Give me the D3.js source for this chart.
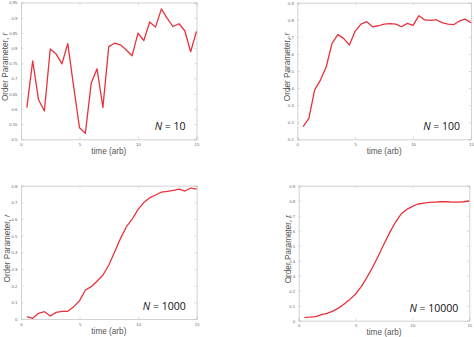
<!DOCTYPE html>
<html>
<head>
<meta charset="utf-8">
<script src="https://cdn.jsdelivr.net/npm/d3@7"></script>
<style>
  html, body { margin: 0; padding: 0; background: #fff; }
  svg { display: block; }
</style>
</head>
<body>
<svg id="chart" width="474" height="337"></svg>
<script>
// Sample times (arb units)
const time = [0.5,1,1.5,2,2.5,3,3.5,4,4.5,5,5.5,6,6.5,7,7.5,8,8.5,9,9.5,10,10.5,11,11.5,12,12.5,13,13.5,14,14.5,15];

// Order parameter r for each population size N
const orderN10 = [0.604,0.758,0.630,0.593,0.797,0.781,0.748,0.815,0.673,0.538,0.520,0.684,0.732,0.605,0.805,0.816,0.811,0.794,0.775,0.849,0.825,0.886,0.869,0.929,0.898,0.871,0.880,0.857,0.788,0.855];
const orderN100 = [0.174,0.223,0.389,0.447,0.525,0.662,0.713,0.691,0.652,0.734,0.775,0.789,0.759,0.765,0.775,0.777,0.775,0.759,0.779,0.767,0.824,0.799,0.797,0.800,0.783,0.775,0.771,0.793,0.804,0.783];
const orderN1000 = [0.014,0.004,0.034,0.044,0.018,0.040,0.046,0.046,0.074,0.110,0.174,0.194,0.228,0.264,0.324,0.404,0.484,0.554,0.600,0.658,0.700,0.728,0.744,0.762,0.766,0.772,0.780,0.768,0.786,0.780];
const orderN10000 = [0.022,0.024,0.027,0.040,0.049,0.064,0.084,0.111,0.142,0.178,0.227,0.289,0.356,0.431,0.511,0.587,0.656,0.711,0.742,0.762,0.778,0.784,0.789,0.791,0.793,0.793,0.791,0.791,0.793,0.798];

// Axis ticks
const xTicks = [0, 5, 10, 15];
const yTicksN10 = [0.5,0.55,0.6,0.65,0.7,0.75,0.8,0.85,0.9,0.95];
const yTicksN100 = [0.1,0.2,0.3,0.4,0.5,0.6,0.7,0.8,0.9];
const yTicksN1000 = [0,0.1,0.2,0.3,0.4,0.5,0.6,0.7,0.8];
const yTicksN10000 = [0,0.1,0.2,0.3,0.4,0.5,0.6,0.7,0.8,0.9];

// Panel sizes
const sizeLabels = ["10", "100", "1000", "10000"];

const panels = [
  { n: sizeLabels[0], values: orderN10,    yTicks: yTicksN10,    box: {x0: 21,  x1: 196.5, y0: 2.5,   y1: 139.3}, ylabX: 5 },
  { n: sizeLabels[1], values: orderN100,   yTicks: yTicksN100,   box: {x0: 297.3, x1: 471, y0: 2.7,   y1: 139.3}, ylabX: 287 },
  { n: sizeLabels[2], values: orderN1000,  yTicks: yTicksN1000,  box: {x0: 21,  x1: 196.7, y0: 185.7, y1: 319},   ylabX: 7 },
  { n: sizeLabels[3], values: orderN10000, yTicks: yTicksN10000, box: {x0: 298.7, x1: 469.3, y0: 185.7, y1: 320.7}, ylabX: 288 }
];

const svg = d3.select("#chart");
const frameColor = "#c8c8c8";
const tickTextColor = "#666";
const labelColor = "#555";
const lineColor = "#e8323c";

panels.forEach(p => {
  const b = p.box;
  const x = d3.scaleLinear().domain([0, 15]).range([b.x0, b.x1]);
  const yDom = d3.extent(p.yTicks);
  const y = d3.scaleLinear().domain(yDom).range([b.y1, b.y0]);
  const g = svg.append("g");

  // bottom axis
  const xAxis = d3.axisBottom(x).tickValues(xTicks).tickSize(-2.5).tickPadding(3.5).tickFormat(d3.format("d"));
  const gx = g.append("g").attr("transform", `translate(0,${b.y1})`).call(xAxis);
  // top axis (ticks only)
  const gxt = g.append("g").attr("transform", `translate(0,${b.y0})`)
    .call(d3.axisTop(x).tickValues(xTicks).tickSize(-2.5).tickFormat(""));
  // left axis
  const yAxis = d3.axisLeft(y).tickValues(p.yTicks).tickSize(-2.5).tickPadding(3.5).tickFormat(d => String(+d.toFixed(2)));
  const gy = g.append("g").attr("transform", `translate(${b.x0},0)`).call(yAxis);
  // right axis (ticks only)
  const gyr = g.append("g").attr("transform", `translate(${b.x1},0)`)
    .call(d3.axisRight(y).tickValues(p.yTicks).tickSize(-2.5).tickFormat(""));

  [gx, gxt, gy, gyr].forEach(a => {
    a.select(".domain").attr("stroke", frameColor).attr("stroke-width", 0.8);
    a.selectAll(".tick line").attr("stroke", frameColor).attr("stroke-width", 0.6);
    a.selectAll(".tick text").attr("fill", tickTextColor)
      .attr("font-family", "Liberation Sans, Arial, sans-serif").attr("font-size", 4.3);
  });

  // series line
  const line = d3.line().x((d, i) => x(time[i])).y(d => y(d));
  g.append("path").datum(p.values)
    .attr("d", line)
    .attr("fill", "none")
    .attr("stroke", lineColor)
    .attr("stroke-width", 1.3)
    .attr("stroke-linejoin", "round");

  // axis titles
  g.append("text")
    .attr("x", (b.x0 + b.x1) / 2)
    .attr("y", b.y1 + 14.5)
    .attr("text-anchor", "middle")
    .attr("fill", labelColor)
    .attr("font-family", "Liberation Sans, Arial, sans-serif")
    .attr("font-size", 8.2)
    .text("time (arb)");

  const yl = g.append("text")
    .attr("transform", `translate(${p.ylabX},${(b.y0 + b.y1) / 2 - 4}) rotate(-90)`)
    .attr("text-anchor", "middle")
    .attr("dy", "0.35em")
    .attr("fill", labelColor)
    .attr("font-family", "Liberation Sans, Arial, sans-serif")
    .attr("font-size", 8.2);
  yl.append("tspan").text("Order Parameter, ");
  yl.append("tspan").attr("font-style", "italic").text("r");

  // population size annotation
  const nl = g.append("text")
    .attr("x", b.x1 - 11)
    .attr("y", b.y1 - 9)
    .attr("text-anchor", "end")
    .attr("fill", "#111")
    .attr("font-family", "Open Sans, Lato, sans-serif")
    .attr("font-size", 10.5);
  nl.append("tspan").attr("font-style", "italic").text("N");
  nl.append("tspan").text(" = " + p.n);
});
</script>
</body>
</html>
